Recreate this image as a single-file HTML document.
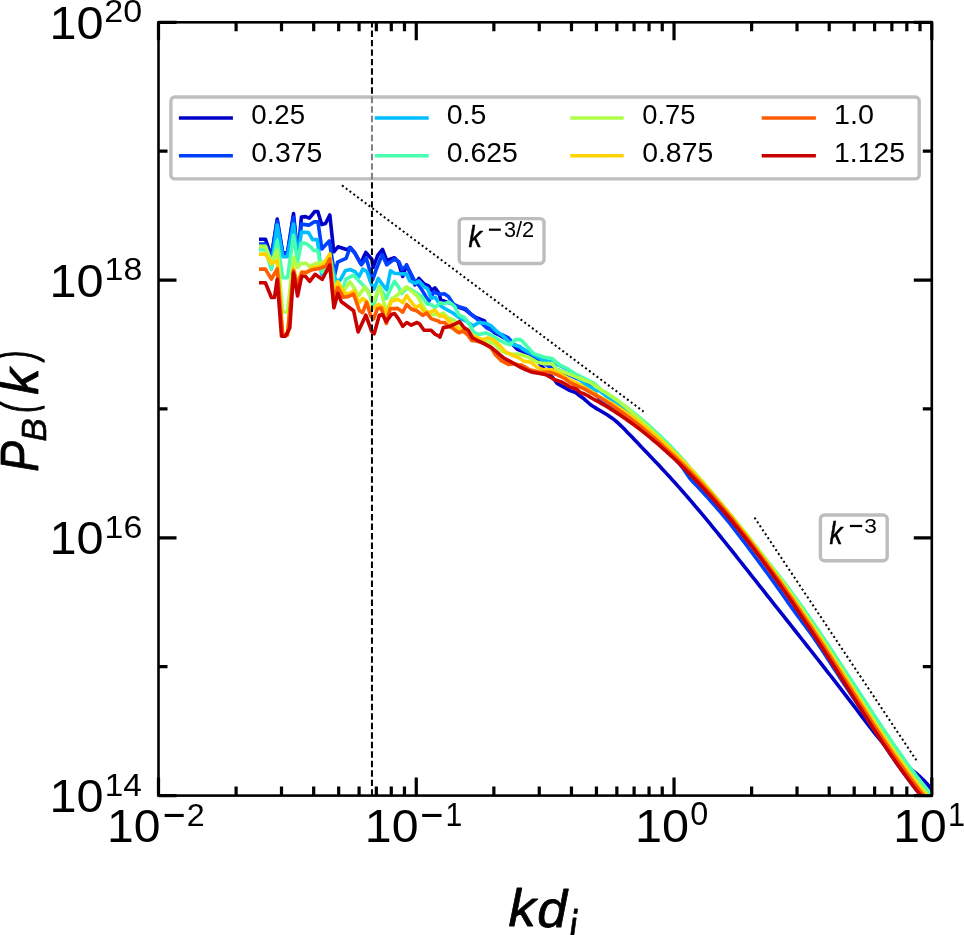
<!DOCTYPE html>
<html><head><meta charset="utf-8"><title>P_B(k) spectrum</title>
<style>html,body{margin:0;padding:0;background:#fff;}body{width:964px;height:935px;overflow:hidden;font-family:"Liberation Sans", sans-serif;}text{font-family:"Liberation Sans", sans-serif;font-kerning:none;}</style>
</head><body>
<div style="will-change:transform;width:964px;height:935px">
<svg width="964" height="935" viewBox="0 0 964 935" style="display:block">
<rect width="964" height="935" fill="#fff"/>
<path d="M158.50,795.6v-18M158.50,22.3v18M236.10,795.6v-9M236.10,22.3v9M281.49,795.6v-9M281.49,22.3v9M313.69,795.6v-9M313.69,22.3v9M338.67,795.6v-9M338.67,22.3v9M359.08,795.6v-9M359.08,22.3v9M376.34,795.6v-9M376.34,22.3v9M391.29,795.6v-9M391.29,22.3v9M404.47,795.6v-9M404.47,22.3v9M416.27,795.6v-18M416.27,22.3v18M493.86,795.6v-9M493.86,22.3v9M539.25,795.6v-9M539.25,22.3v9M571.46,795.6v-9M571.46,22.3v9M596.44,795.6v-9M596.44,22.3v9M616.85,795.6v-9M616.85,22.3v9M634.10,795.6v-9M634.10,22.3v9M649.05,795.6v-9M649.05,22.3v9M662.24,795.6v-9M662.24,22.3v9M674.03,795.6v-18M674.03,22.3v18M751.63,795.6v-9M751.63,22.3v9M797.02,795.6v-9M797.02,22.3v9M829.22,795.6v-9M829.22,22.3v9M854.20,795.6v-9M854.20,22.3v9M874.61,795.6v-9M874.61,22.3v9M891.87,795.6v-9M891.87,22.3v9M906.82,795.6v-9M906.82,22.3v9M920.01,795.6v-9M920.01,22.3v9M931.80,795.6v-18M931.80,22.3v18M158.5,795.60h18M931.8,795.60h-18M158.5,666.72h9M931.8,666.72h-9M158.5,537.83h18M931.8,537.83h-18M158.5,408.95h9M931.8,408.95h-9M158.5,280.07h18M931.8,280.07h-18M158.5,151.18h9M931.8,151.18h-9M158.5,22.30h18M931.8,22.30h-18" stroke="#000" stroke-width="3.2" fill="none"/>
<defs><clipPath id="ax"><rect x="159.8" y="23.6" width="770.6999999999999" height="770.7"/></clipPath></defs>
<g clip-path="url(#ax)" fill="none" stroke-width="3.6" stroke-linejoin="round" stroke-linecap="butt">
<path d="M259.0,239.2 L265.4,239.2 L271.4,256.7 L277.2,219.0 L282.7,252.8 L287.5,252.8 L293.5,213.5 L297.8,257.0 L301.4,217.1 L305.5,216.6 L309.4,218.2 L314.8,211.5 L317.8,211.5 L321.7,224.6 L325.5,223.5 L329.8,215.0 L333.8,251.8 L338.0,246.8 L347.4,249.8 L350.0,247.3 L354.3,252.0 L360.7,263.5 L365.8,252.4 L371.8,259.3 L373.2,267.5 L377.7,255.3 L382.5,249.5 L386.7,260.4 L394.4,257.8 L398.2,261.7 L402.7,276.5 L406.6,264.9 L411.1,275.2 L414.9,284.8 L418.9,278.4 L424.0,283.8 L428.5,285.9 L431.7,290.4 L434.9,287.8 L438.8,293.0 L440.7,299.4 L444.3,301.1 L450.0,303.0 L456.8,306.5 L465.3,309.5 L471.3,314.5 L475.9,317.4 L484.5,320.8 L487.9,326.8 L494.7,332.8 L500.0,335.5 L508.7,340.5 L517.0,349.0 L527.3,353.6 L537.3,361.1 L544.8,369.8 L553.5,378.5 L557.2,383.5 L570.0,390.6 L575.1,392.2 L580.0,396.1 L584.3,399.1 L588.6,403.0 L590.0,404.3 L592.5,406.0 L595.0,407.6 L597.5,409.1 L600.0,410.5 L602.5,412.0 L605.0,413.5 L607.5,415.0 L610.0,416.7 L612.5,418.4 L615.0,420.4 L617.5,422.5 L620.0,424.9 L622.5,427.3 L625.0,429.8 L627.5,432.4 L630.0,435.0 L632.5,437.6 L635.0,440.2 L637.5,442.8 L640.0,445.4 L642.5,448.1 L645.0,450.7 L647.5,453.3 L650.0,455.9 L652.5,458.6 L655.0,461.2 L657.5,463.8 L660.0,466.5 L662.5,469.2 L665.0,471.9 L667.5,474.6 L670.0,477.3 L672.5,480.1 L675.0,482.8 L677.5,485.6 L680.0,488.4 L682.5,491.3 L685.0,494.1 L687.5,497.0 L690.0,499.9 L692.5,502.8 L695.0,505.8 L697.5,508.7 L700.0,511.7 L702.5,514.7 L705.0,517.7 L707.5,520.7 L710.0,523.7 L712.5,526.8 L715.0,529.8 L717.5,532.9 L720.0,536.0 L722.5,539.1 L725.0,542.2 L727.5,545.3 L730.0,548.4 L732.5,551.5 L735.0,554.7 L737.5,557.8 L740.0,561.0 L742.5,564.1 L745.0,567.3 L747.5,570.4 L750.0,573.6 L752.5,576.8 L755.0,579.9 L757.5,583.1 L760.0,586.3 L762.5,589.4 L765.0,592.6 L767.5,595.8 L770.0,598.9 L772.5,602.1 L775.0,605.3 L777.5,608.4 L780.0,611.6 L782.5,614.7 L785.0,617.9 L787.5,621.0 L790.0,624.2 L792.5,627.4 L795.0,630.5 L797.5,633.7 L800.0,636.8 L802.5,640.0 L805.0,643.1 L807.5,646.3 L810.0,649.5 L812.5,652.6 L815.0,655.8 L817.5,659.0 L820.0,662.2 L822.5,665.4 L825.0,668.6 L827.5,671.8 L830.0,675.0 L832.5,678.2 L835.0,681.4 L837.5,684.6 L840.0,687.8 L842.5,691.1 L845.0,694.3 L847.5,697.6 L850.0,700.9 L852.5,704.2 L855.0,707.4 L857.5,710.8 L860.0,714.1 L862.5,717.4 L865.0,720.7 L867.5,723.9 L870.0,727.2 L872.5,730.4 L875.0,733.5 L877.5,736.6 L880.0,739.6 L882.5,742.6 L885.0,745.5 L887.5,748.2 L890.0,750.9 L892.5,753.5 L895.0,755.9 L897.5,758.2 L900.0,760.4 L902.5,762.5 L905.0,764.5 L907.5,766.5 L910.0,768.4 L912.5,770.4 L915.0,772.4 L917.5,774.5 L920.0,776.7 L922.5,779.1 L925.0,781.6 L927.5,784.3 L930.0,787.3 L932.5,790.5 L935.0,794.0 L937.5,797.9 L940.0,802.0" stroke="#0000c8"/>
<path d="M259.0,244.0 L265.4,244.0 L271.4,256.5 L277.2,221.0 L282.7,253.3 L287.5,253.3 L293.5,217.3 L297.8,256.0 L301.4,224.1 L308.9,225.1 L314.3,221.9 L318.0,221.9 L321.8,249.0 L329.3,240.9 L334.7,274.9 L337.6,262.2 L346.1,258.4 L350.0,247.7 L355.1,253.7 L361.5,264.8 L366.2,258.0 L370.9,274.2 L372.6,280.0 L375.8,270.7 L382.2,254.6 L386.7,264.9 L394.4,259.1 L398.9,261.7 L402.1,269.4 L406.6,265.5 L411.7,275.2 L414.9,281.6 L419.4,286.1 L423.9,293.1 L428.6,301.7 L433.7,292.2 L440.0,294.3 L444.3,293.8 L448.6,296.8 L453.7,304.5 L458.8,306.7 L465.7,308.8 L470.8,314.0 L475.9,318.2 L481.1,322.5 L486.2,327.6 L491.3,330.2 L498.2,333.6 L503.3,335.3 L508.4,337.9 L513.6,343.9 L520.0,348.2 L524.9,351.1 L533.6,357.3 L548.5,366.1 L563.0,372.0 L577.1,378.5 L589.6,384.7 L600.0,400.1 L602.5,401.6 L605.0,403.0 L607.5,404.6 L610.0,406.1 L612.5,407.7 L615.0,409.3 L617.5,410.9 L620.0,412.6 L622.5,414.3 L625.0,416.1 L627.5,417.9 L630.0,419.7 L632.5,421.5 L635.0,423.4 L637.5,425.3 L640.0,427.3 L642.5,429.3 L645.0,431.3 L647.5,433.3 L650.0,435.4 L652.5,437.5 L655.0,439.7 L657.5,441.9 L660.0,444.1 L662.5,446.4 L665.0,448.7 L667.5,451.1 L670.0,453.5 L672.5,456.1 L675.0,458.7 L677.5,461.5 L680.0,464.3 L682.5,467.6 L685.0,471.3 L687.5,475.0 L690.0,478.5 L692.5,481.4 L695.0,484.0 L697.5,486.6 L700.0,489.3 L702.5,491.9 L705.0,494.7 L707.5,497.4 L710.0,500.2 L712.5,503.0 L715.0,505.8 L717.5,508.7 L720.0,511.6 L722.5,514.6 L725.0,517.6 L727.5,520.6 L730.0,523.7 L732.5,526.9 L735.0,530.1 L737.5,533.3 L740.0,536.6 L742.5,539.9 L745.0,543.2 L747.5,546.5 L750.0,549.9 L752.5,553.2 L755.0,556.6 L757.5,560.0 L760.0,563.3 L762.5,566.7 L765.0,570.1 L767.5,573.5 L770.0,576.9 L772.5,580.4 L775.0,583.9 L777.5,587.4 L780.0,590.9 L782.5,594.5 L785.0,598.0 L787.5,601.6 L790.0,605.3 L792.5,608.8 L795.0,612.3 L797.5,615.7 L800.0,619.0 L802.5,622.4 L805.0,625.7 L807.5,629.1 L810.0,632.5 L812.5,636.0 L815.0,639.6 L817.5,643.3 L820.0,647.0 L822.5,650.8 L825.0,654.6 L827.5,658.5 L830.0,662.3 L832.5,666.2 L835.0,670.0 L837.5,673.9 L840.0,677.7 L842.5,681.6 L845.0,685.3 L847.5,689.1 L850.0,692.8 L852.5,696.6 L855.0,700.3 L857.5,704.1 L860.0,708.0 L862.5,711.9 L865.0,715.8 L867.5,719.7 L870.0,723.6 L872.5,727.4 L875.0,731.2 L877.5,735.1 L880.0,738.8 L882.5,742.6 L885.0,746.3 L887.5,750.0 L890.0,753.7 L892.5,757.3 L895.0,760.9 L897.5,764.5 L900.0,768.0 L902.5,771.5 L905.0,774.9 L907.5,778.3 L910.0,781.6 L912.5,784.9 L915.0,788.1 L917.5,791.3 L920.0,794.4 L922.5,797.5 L925.0,800.5 L927.5,803.4 L930.0,806.3 L932.5,809.1 L935.0,811.8 L937.5,814.5 L940.0,817.0" stroke="#0040ff"/>
<path d="M259.0,246.5 L265.4,246.5 L271.4,267.4 L277.2,225.0 L282.7,256.7 L287.5,256.7 L293.5,224.0 L297.8,258.0 L301.4,232.1 L308.5,232.6 L312.6,239.6 L317.3,239.6 L321.6,274.3 L326.0,263.0 L329.8,256.0 L335.7,280.7 L340.2,280.1 L345.3,270.8 L350.0,269.5 L355.1,271.7 L359.0,276.8 L362.8,269.1 L367.1,271.7 L370.1,281.0 L373.9,289.3 L378.3,278.4 L382.2,284.2 L386.7,289.9 L390.5,270.7 L394.4,273.2 L402.1,273.9 L406.6,273.9 L409.8,280.9 L414.9,283.5 L418.8,280.9 L423.9,286.7 L427.7,288.8 L431.1,298.2 L435.4,297.4 L440.0,305.4 L446.8,309.7 L453.0,313.0 L459.7,318.2 L466.0,321.0 L473.4,325.9 L478.5,322.5 L486.2,323.4 L491.3,325.9 L496.5,331.1 L503.3,336.2 L508.4,341.3 L513.6,344.7 L520.0,346.5 L522.4,348.6 L532.0,354.0 L542.3,359.8 L552.2,362.3 L561.0,366.1 L570.0,371.0 L579.6,379.5 L586.0,385.1 L595.7,390.3 L600.0,391.1 L602.5,393.1 L605.0,395.1 L607.5,397.1 L610.0,398.9 L612.5,400.6 L615.0,402.3 L617.5,404.0 L620.0,405.7 L622.5,407.5 L625.0,409.2 L627.5,411.0 L630.0,412.8 L632.5,414.7 L635.0,416.6 L637.5,418.5 L640.0,420.4 L642.5,422.4 L645.0,424.5 L647.5,426.5 L650.0,428.6 L652.5,430.7 L655.0,432.8 L657.5,435.0 L660.0,437.2 L662.5,439.5 L665.0,441.7 L667.5,444.1 L670.0,446.5 L672.5,449.0 L675.0,451.5 L677.5,454.2 L680.0,457.0 L682.5,459.7 L685.0,462.6 L687.5,465.4 L690.0,468.3 L692.5,471.2 L695.0,474.1 L697.5,476.9 L700.0,479.8 L702.5,482.6 L705.0,485.4 L707.5,488.3 L710.0,491.2 L712.5,494.1 L715.0,497.0 L717.5,500.0 L720.0,503.0 L722.5,506.0 L725.0,509.0 L727.5,512.0 L730.0,515.0 L732.5,518.0 L735.0,521.1 L737.5,524.2 L740.0,527.3 L742.5,530.4 L745.0,533.5 L747.5,536.7 L750.0,539.9 L752.5,543.1 L755.0,546.3 L757.5,549.6 L760.0,552.8 L762.5,556.1 L765.0,559.3 L767.5,562.5 L770.0,565.6 L772.5,568.7 L775.0,571.9 L777.5,575.0 L780.0,578.2 L782.5,581.4 L785.0,584.6 L787.5,587.9 L790.0,591.3 L792.5,594.7 L795.0,598.1 L797.5,601.5 L800.0,605.0 L802.5,608.5 L805.0,612.1 L807.5,615.6 L810.0,619.2 L812.5,622.8 L815.0,626.5 L817.5,630.1 L820.0,633.8 L822.5,637.5 L825.0,641.2 L827.5,645.0 L830.0,648.8 L832.5,652.6 L835.0,656.4 L837.5,660.2 L840.0,664.0 L842.5,667.9 L845.0,671.7 L847.5,675.5 L850.0,679.3 L852.5,683.1 L855.0,686.9 L857.5,690.6 L860.0,694.4 L862.5,698.2 L865.0,702.0 L867.5,705.8 L870.0,709.7 L872.5,713.6 L875.0,717.4 L877.5,721.3 L880.0,725.1 L882.5,728.9 L885.0,732.6 L887.5,736.3 L890.0,740.0 L892.5,743.7 L895.0,747.3 L897.5,750.9 L900.0,754.5 L902.5,758.0 L905.0,761.5 L907.5,765.0 L910.0,768.4 L912.5,771.8 L915.0,775.1 L917.5,778.4 L920.0,781.7 L922.5,784.9 L925.0,788.2 L927.5,791.4 L930.0,794.6 L932.5,797.7 L935.0,800.8 L937.5,803.8 L940.0,806.7" stroke="#00bfff"/>
<path d="M259.0,249.8 L265.4,249.8 L271.4,269.6 L277.2,240.7 L282.7,277.6 L287.5,277.6 L293.5,235.3 L297.6,262.0 L301.4,242.8 L306.3,243.6 L310.6,247.0 L313.9,250.5 L317.7,250.5 L322.2,272.4 L329.8,258.0 L334.5,285.0 L340.0,292.0 L343.0,290.7 L345.6,279.4 L353.7,275.2 L360.1,282.1 L364.4,286.4 L368.4,291.4 L373.5,306.2 L379.3,286.3 L386.3,298.5 L390.0,289.8 L394.5,281.4 L398.3,286.6 L401.6,293.6 L407.2,288.0 L411.7,290.0 L417.0,293.6 L422.1,296.8 L427.2,303.9 L431.1,304.5 L434.9,307.7 L440.0,302.8 L445.1,303.7 L449.0,302.0 L454.5,306.3 L458.8,314.8 L464.0,317.4 L468.2,322.5 L474.2,332.8 L479.3,334.5 L486.2,332.8 L491.3,335.3 L498.2,339.6 L505.0,343.0 L510.1,344.7 L515.3,339.6 L520.0,339.6 L522.4,341.2 L533.6,353.6 L544.8,357.3 L552.2,358.6 L559.7,364.8 L567.2,368.5 L574.7,373.5 L584.6,378.5 L594.6,383.5 L600.0,389.1 L602.5,390.7 L605.0,392.2 L607.5,393.8 L610.0,395.5 L612.5,397.1 L615.0,398.8 L617.5,400.6 L620.0,402.4 L622.5,404.2 L625.0,406.1 L627.5,407.9 L630.0,409.9 L632.5,411.8 L635.0,413.8 L637.5,415.9 L640.0,417.9 L642.5,420.1 L645.0,422.2 L647.5,424.4 L650.0,426.6 L652.5,428.9 L655.0,431.2 L657.5,433.5 L660.0,435.9 L662.5,438.3 L665.0,440.7 L667.5,443.2 L670.0,445.8 L672.5,448.4 L675.0,451.1 L677.5,453.8 L680.0,456.5 L682.5,459.3 L685.0,462.2 L687.5,465.0 L690.0,467.9 L692.5,470.7 L695.0,473.6 L697.5,476.4 L700.0,479.3 L702.5,482.1 L705.0,484.9 L707.5,487.8 L710.0,490.7 L712.5,493.6 L715.0,496.5 L717.5,499.5 L720.0,502.5 L722.5,505.5 L725.0,508.5 L727.5,511.5 L730.0,514.5 L732.5,517.5 L735.0,520.6 L737.5,523.6 L740.0,526.7 L742.5,529.8 L745.0,532.9 L747.5,536.0 L750.0,539.1 L752.5,542.3 L755.0,545.4 L757.5,548.6 L760.0,551.8 L762.5,555.0 L765.0,558.2 L767.5,561.4 L770.0,564.5 L772.5,567.6 L775.0,570.8 L777.5,573.9 L780.0,577.1 L782.5,580.3 L785.0,583.6 L787.5,586.9 L790.0,590.3 L792.5,593.7 L795.0,597.1 L797.5,600.5 L800.0,604.0 L802.5,607.5 L805.0,611.1 L807.5,614.6 L810.0,618.2 L812.5,621.8 L815.0,625.5 L817.5,629.1 L820.0,632.8 L822.5,636.5 L825.0,640.2 L827.5,644.0 L830.0,647.8 L832.5,651.6 L835.0,655.4 L837.5,659.2 L840.0,663.0 L842.5,666.9 L845.0,670.7 L847.5,674.5 L850.0,678.3 L852.5,682.1 L855.0,685.9 L857.5,689.6 L860.0,693.4 L862.5,697.2 L865.0,701.0 L867.5,704.8 L870.0,708.7 L872.5,712.6 L875.0,716.4 L877.5,720.3 L880.0,724.1 L882.5,727.9 L885.0,731.6 L887.5,735.3 L890.0,739.0 L892.5,742.7 L895.0,746.3 L897.5,749.9 L900.0,753.5 L902.5,757.0 L905.0,760.5 L907.5,764.0 L910.0,767.4 L912.5,770.8 L915.0,774.1 L917.5,777.4 L920.0,780.7 L922.5,783.9 L925.0,787.2 L927.5,790.4 L930.0,793.6 L932.5,796.7 L935.0,799.8 L937.5,802.8 L940.0,805.7" stroke="#48ffaf"/>
<path d="M259.0,246.4 L265.4,246.4 L271.4,262.0 L277.2,250.3 L282.7,312.0 L287.5,312.0 L293.5,257.3 L297.4,267.4 L301.6,263.4 L306.3,263.3 L309.7,266.7 L314.9,263.7 L319.0,262.7 L325.1,261.6 L329.8,254.5 L333.5,292.0 L343.3,291.4 L350.0,282.0 L352.3,285.0 L358.7,295.9 L364.5,286.9 L373.5,301.0 L379.9,286.9 L386.3,312.0 L391.5,299.1 L395.1,296.8 L406.7,286.6 L411.2,291.0 L417.0,295.5 L420.8,302.0 L425.9,310.9 L433.6,314.8 L440.0,314.8 L443.4,313.1 L448.6,318.2 L453.7,319.9 L459.0,324.0 L466.0,330.0 L474.2,336.2 L481.1,341.3 L487.0,341.5 L494.7,343.9 L499.9,349.9 L506.7,353.3 L513.6,354.2 L520.0,354.2 L528.6,357.3 L537.3,362.3 L543.5,363.6 L552.2,363.6 L557.2,369.8 L564.7,372.3 L577.1,377.3 L589.6,382.2 L600.0,389.1 L602.5,390.6 L605.0,392.1 L607.5,393.7 L610.0,395.3 L612.5,397.0 L615.0,398.7 L617.5,400.5 L620.0,402.4 L622.5,404.4 L625.0,406.4 L627.5,408.5 L630.0,410.6 L632.5,412.8 L635.0,415.0 L637.5,417.2 L640.0,419.4 L642.5,421.7 L645.0,424.0 L647.5,426.3 L650.0,428.6 L652.5,431.0 L655.0,433.4 L657.5,435.8 L660.0,438.2 L662.5,440.6 L665.0,443.0 L667.5,445.5 L670.0,447.9 L672.5,450.3 L675.0,452.8 L677.5,455.2 L680.0,457.7 L682.5,460.3 L685.0,462.8 L687.5,465.4 L690.0,468.0 L692.5,470.6 L695.0,473.3 L697.5,476.0 L700.0,478.8 L702.5,481.5 L705.0,484.4 L707.5,487.2 L710.0,490.1 L712.5,493.0 L715.0,496.0 L717.5,498.9 L720.0,501.9 L722.5,504.9 L725.0,507.9 L727.5,511.0 L730.0,514.0 L732.5,517.0 L735.0,520.1 L737.5,523.2 L740.0,526.3 L742.5,529.4 L745.0,532.5 L747.5,535.7 L750.0,538.9 L752.5,542.1 L755.0,545.3 L757.5,548.5 L760.0,551.8 L762.5,555.1 L765.0,558.4 L767.5,561.7 L770.0,565.0 L772.5,568.3 L775.0,571.7 L777.5,575.0 L780.0,578.4 L782.5,581.8 L785.0,585.3 L787.5,588.7 L790.0,592.3 L792.5,595.8 L795.0,599.4 L797.5,603.0 L800.0,606.6 L802.5,610.2 L805.0,613.9 L807.5,617.5 L810.0,621.3 L812.5,625.0 L815.0,628.7 L817.5,632.5 L820.0,636.3 L822.5,640.1 L825.0,643.9 L827.5,647.8 L830.0,651.7 L832.5,655.5 L835.0,659.4 L837.5,663.3 L840.0,667.2 L842.5,671.1 L845.0,675.0 L847.5,679.0 L850.0,682.9 L852.5,686.8 L855.0,690.7 L857.5,694.7 L860.0,698.6 L862.5,702.5 L865.0,706.4 L867.5,710.3 L870.0,714.2 L872.5,718.1 L875.0,721.9 L877.5,725.8 L880.0,729.6 L882.5,733.4 L885.0,737.1 L887.5,740.8 L890.0,744.5 L892.5,748.2 L895.0,751.8 L897.5,755.4 L900.0,758.9 L902.5,762.4 L905.0,765.8 L907.5,769.3 L910.0,772.7 L912.5,776.0 L915.0,779.3 L917.5,782.6 L920.0,785.8 L922.5,788.9 L925.0,792.0 L927.5,795.1 L930.0,798.0 L932.5,801.0 L935.0,803.8 L937.5,806.6 L940.0,809.3" stroke="#afff48"/>
<path d="M259.0,254.1 L265.4,254.1 L271.4,263.7 L277.2,260.5 L282.7,334.0 L287.5,334.0 L293.5,268.0 L297.4,283.0 L301.4,272.0 L306.3,272.8 L312.6,267.2 L319.6,266.6 L325.1,262.4 L329.8,253.8 L333.5,295.0 L337.9,281.6 L344.6,293.3 L349.8,293.3 L354.3,290.8 L358.7,303.0 L362.6,298.5 L367.1,301.7 L370.9,310.7 L374.2,307.5 L378.6,304.3 L383.8,308.1 L386.3,314.0 L391.5,301.0 L398.3,299.4 L402.8,302.6 L406.7,295.5 L411.2,302.0 L415.7,307.7 L419.5,305.2 L424.0,311.6 L429.8,312.2 L434.9,310.3 L438.8,314.8 L440.0,316.5 L443.4,315.7 L448.6,320.8 L455.4,325.9 L460.0,329.5 L465.7,332.8 L474.0,336.5 L482.8,339.6 L487.9,337.9 L493.0,339.6 L499.9,345.6 L505.0,351.6 L511.9,355.0 L520.0,358.4 L523.6,361.1 L531.1,362.3 L537.3,367.3 L543.5,369.8 L552.2,369.8 L559.7,373.5 L569.7,379.8 L579.6,384.5 L589.6,390.5 L595.7,394.0 L600.0,397.1 L602.5,398.4 L605.0,399.6 L607.5,400.9 L610.0,402.3 L612.5,403.8 L615.0,405.3 L617.5,406.9 L620.0,408.6 L622.5,410.3 L625.0,412.0 L627.5,413.7 L630.0,415.5 L632.5,417.3 L635.0,419.2 L637.5,421.0 L640.0,422.9 L642.5,424.9 L645.0,426.9 L647.5,428.9 L650.0,430.9 L652.5,433.0 L655.0,435.1 L657.5,437.2 L660.0,439.4 L662.5,441.6 L665.0,443.8 L667.5,446.1 L670.0,448.4 L672.5,450.8 L675.0,453.2 L677.5,455.7 L680.0,458.2 L682.5,460.8 L685.0,463.4 L687.5,466.1 L690.0,468.8 L692.5,471.5 L695.0,474.2 L697.5,477.0 L700.0,479.8 L702.5,482.5 L705.0,485.4 L707.5,488.2 L710.0,491.1 L712.5,494.0 L715.0,497.0 L717.5,500.0 L720.0,502.9 L722.5,505.9 L725.0,508.9 L727.5,512.0 L730.0,515.0 L732.5,518.0 L735.0,521.1 L737.5,524.2 L740.0,527.3 L742.5,530.5 L745.0,533.7 L747.5,536.9 L750.0,540.1 L752.5,543.4 L755.0,546.7 L757.5,550.0 L760.0,553.3 L762.5,556.7 L765.0,560.0 L767.5,563.4 L770.0,566.7 L772.5,570.1 L775.0,573.5 L777.5,576.9 L780.0,580.3 L782.5,583.8 L785.0,587.2 L787.5,590.7 L790.0,594.3 L792.5,597.8 L795.0,601.4 L797.5,605.0 L800.0,608.6 L802.5,612.2 L805.0,615.9 L807.5,619.6 L810.0,623.3 L812.5,627.0 L815.0,630.7 L817.5,634.5 L820.0,638.3 L822.5,642.1 L825.0,645.9 L827.5,649.8 L830.0,653.7 L832.5,657.5 L835.0,661.4 L837.5,665.3 L840.0,669.2 L842.5,673.1 L845.0,677.0 L847.5,681.0 L850.0,684.9 L852.5,688.8 L855.0,692.7 L857.5,696.7 L860.0,700.6 L862.5,704.5 L865.0,708.4 L867.5,712.3 L870.0,716.2 L872.5,720.1 L875.0,723.9 L877.5,727.8 L880.0,731.6 L882.5,735.4 L885.0,739.1 L887.5,742.8 L890.0,746.5 L892.5,750.2 L895.0,753.8 L897.5,757.4 L900.0,760.9 L902.5,764.4 L905.0,767.8 L907.5,771.3 L910.0,774.7 L912.5,778.0 L915.0,781.3 L917.5,784.6 L920.0,787.8 L922.5,790.9 L925.0,794.0 L927.5,797.1 L930.0,800.0 L932.5,803.0 L935.0,805.8 L937.5,808.6 L940.0,811.3" stroke="#ffd200"/>
<path d="M259.0,269.1 L265.4,269.1 L271.4,279.2 L277.2,268.8 L282.7,335.0 L287.5,335.0 L293.5,270.5 L297.4,286.0 L302.0,272.4 L306.3,272.4 L311.9,269.8 L319.6,268.5 L326.0,266.0 L329.8,258.9 L333.5,299.0 L337.9,287.5 L343.3,297.2 L347.8,296.6 L353.6,294.0 L359.4,310.7 L362.6,312.6 L366.5,302.3 L370.9,316.4 L373.5,319.0 L377.4,308.7 L381.2,308.1 L386.3,323.5 L390.2,308.7 L397.7,308.4 L402.8,312.2 L406.7,304.5 L411.2,309.0 L417.0,311.0 L422.7,315.4 L426.6,312.9 L431.1,318.6 L438.8,321.2 L440.0,322.5 L444.3,322.5 L448.6,325.9 L453.0,328.5 L458.8,332.8 L463.0,331.0 L467.4,334.5 L471.7,340.5 L477.6,341.3 L484.5,343.5 L491.3,348.2 L495.6,355.0 L501.6,361.0 L508.4,364.4 L514.4,363.6 L520.0,365.3 L521.1,364.8 L529.8,369.8 L539.8,372.3 L549.8,372.3 L557.2,374.8 L564.7,378.5 L570.0,382.6 L576.4,385.5 L580.0,387.1 L584.3,388.9 L588.6,391.4 L592.8,393.6 L597.1,396.1 L600.0,397.6 L602.5,399.2 L605.0,400.8 L607.5,402.5 L610.0,404.1 L612.5,405.8 L615.0,407.5 L617.5,409.2 L620.0,411.0 L622.5,412.8 L625.0,414.5 L627.5,416.4 L630.0,418.2 L632.5,420.1 L635.0,422.0 L637.5,424.0 L640.0,425.9 L642.5,428.0 L645.0,430.0 L647.5,432.2 L650.0,434.3 L652.5,436.5 L655.0,438.7 L657.5,440.9 L660.0,443.2 L662.5,445.4 L665.0,447.7 L667.5,450.0 L670.0,452.3 L672.5,454.6 L675.0,456.9 L677.5,459.3 L680.0,461.7 L682.5,464.1 L685.0,466.6 L687.5,469.0 L690.0,471.6 L692.5,474.1 L695.0,476.7 L697.5,479.3 L700.0,482.0 L702.5,484.7 L705.0,487.4 L707.5,490.2 L710.0,493.0 L712.5,495.8 L715.0,498.7 L717.5,501.6 L720.0,504.5 L722.5,507.5 L725.0,510.5 L727.5,513.5 L730.0,516.5 L732.5,519.5 L735.0,522.6 L737.5,525.7 L740.0,528.8 L742.5,532.0 L745.0,535.2 L747.5,538.4 L750.0,541.6 L752.5,544.9 L755.0,548.2 L757.5,551.5 L760.0,554.8 L762.5,558.2 L765.0,561.5 L767.5,564.9 L770.0,568.3 L772.5,571.7 L775.0,575.2 L777.5,578.6 L780.0,582.1 L782.5,585.6 L785.0,589.1 L787.5,592.7 L790.0,596.3 L792.5,599.9 L795.0,603.5 L797.5,607.1 L800.0,610.8 L802.5,614.5 L805.0,618.2 L807.5,621.9 L810.0,625.6 L812.5,629.4 L815.0,633.2 L817.5,637.0 L820.0,640.8 L822.5,644.6 L825.0,648.5 L827.5,652.4 L830.0,656.3 L832.5,660.2 L835.0,664.1 L837.5,668.0 L840.0,672.0 L842.5,675.9 L845.0,679.9 L847.5,683.8 L850.0,687.8 L852.5,691.7 L855.0,695.7 L857.5,699.6 L860.0,703.6 L862.5,707.5 L865.0,711.4 L867.5,715.3 L870.0,719.2 L872.5,723.1 L875.0,726.9 L877.5,730.8 L880.0,734.6 L882.5,738.4 L885.0,742.1 L887.5,745.8 L890.0,749.5 L892.5,753.2 L895.0,756.8 L897.5,760.4 L900.0,763.9 L902.5,767.4 L905.0,770.8 L907.5,774.3 L910.0,777.7 L912.5,781.0 L915.0,784.3 L917.5,787.6 L920.0,790.8 L922.5,793.9 L925.0,797.0 L927.5,800.1 L930.0,803.0 L932.5,806.0 L935.0,808.8 L937.5,811.6 L940.0,814.3" stroke="#ff5c00"/>
<path d="M259.0,282.7 L265.4,282.7 L271.4,297.5 L274.5,297.5 L277.2,279.2 L281.5,336.1 L285.5,336.1 L289.8,328.0 L293.5,272.8 L297.6,295.9 L301.6,276.3 L305.5,276.3 L309.7,281.4 L315.1,274.3 L322.2,279.4 L329.8,265.0 L333.9,307.8 L337.9,293.3 L341.4,301.7 L353.6,310.7 L358.1,331.9 L365.8,315.2 L371.6,331.2 L374.2,333.8 L379.3,315.2 L382.5,314.5 L386.3,321.6 L391.5,314.5 L394.5,313.5 L398.3,318.6 L402.8,326.3 L406.7,322.5 L411.2,325.1 L417.0,322.5 L419.5,323.8 L424.0,330.2 L431.1,330.2 L434.9,334.1 L438.8,336.0 L440.0,337.0 L443.4,327.6 L448.6,326.8 L454.0,324.5 L459.7,321.7 L464.0,327.6 L468.2,330.2 L472.5,337.9 L477.6,340.5 L484.5,343.9 L491.3,347.3 L498.2,353.3 L504.2,358.4 L511.0,361.9 L520.0,367.0 L526.1,369.8 L532.3,372.3 L539.8,373.5 L546.0,374.8 L554.7,379.8 L562.2,382.2 L570.0,387.1 L576.4,389.0 L580.0,392.3 L584.3,394.0 L588.6,396.1 L590.0,397.2 L592.5,398.5 L595.0,399.9 L597.5,401.2 L600.0,402.6 L602.5,404.1 L605.0,405.5 L607.5,407.0 L610.0,408.6 L612.5,410.1 L615.0,411.7 L617.5,413.4 L620.0,415.0 L622.5,416.7 L625.0,418.4 L627.5,420.2 L630.0,422.0 L632.5,423.8 L635.0,425.6 L637.5,427.5 L640.0,429.4 L642.5,431.4 L645.0,433.4 L647.5,435.4 L650.0,437.4 L652.5,439.5 L655.0,441.6 L657.5,443.7 L660.0,445.9 L662.5,448.1 L665.0,450.3 L667.5,452.6 L670.0,454.9 L672.5,457.2 L675.0,459.5 L677.5,461.9 L680.0,464.3 L682.5,466.8 L685.0,469.3 L687.5,471.8 L690.0,474.3 L692.5,476.9 L695.0,479.5 L697.5,482.1 L700.0,484.8 L702.5,487.4 L705.0,490.2 L707.5,492.9 L710.0,495.7 L712.5,498.5 L715.0,501.3 L717.5,504.2 L720.0,507.1 L722.5,510.0 L725.0,513.0 L727.5,516.0 L730.0,519.0 L732.5,522.0 L735.0,525.1 L737.5,528.2 L740.0,531.3 L742.5,534.5 L745.0,537.7 L747.5,540.9 L750.0,544.1 L752.5,547.4 L755.0,550.7 L757.5,554.0 L760.0,557.3 L762.5,560.7 L765.0,564.1 L767.5,567.5 L770.0,570.9 L772.5,574.4 L775.0,577.9 L777.5,581.4 L780.0,584.9 L782.5,588.5 L785.0,592.0 L787.5,595.6 L790.0,599.3 L792.5,602.9 L795.0,606.6 L797.5,610.2 L800.0,613.9 L802.5,617.7 L805.0,621.4 L807.5,625.2 L810.0,629.0 L812.5,632.8 L815.0,636.6 L817.5,640.4 L820.0,644.3 L822.5,648.2 L825.0,652.1 L827.5,656.0 L830.0,659.9 L832.5,663.9 L835.0,667.8 L837.5,671.8 L840.0,675.7 L842.5,679.7 L845.0,683.7 L847.5,687.7 L850.0,691.7 L852.5,695.6 L855.0,699.6 L857.5,703.6 L860.0,707.5 L862.5,711.5 L865.0,715.4 L867.5,719.3 L870.0,723.2 L872.5,727.1 L875.0,730.9 L877.5,734.8 L880.0,738.6 L882.5,742.4 L885.0,746.1 L887.5,749.8 L890.0,753.5 L892.5,757.2 L895.0,760.8 L897.5,764.4 L900.0,767.9 L902.5,771.4 L905.0,774.8 L907.5,778.2 L910.0,781.5 L912.5,784.8 L915.0,788.1 L917.5,791.3 L920.0,794.4 L922.5,797.4 L925.0,800.4 L927.5,803.4 L930.0,806.3 L932.5,809.1 L935.0,811.8 L937.5,814.5 L940.0,817.0" stroke="#c80000"/>
</g>
<line x1="371.95" y1="795.6" x2="371.95" y2="22.3" stroke="#000" stroke-width="2" stroke-dasharray="6.45 3.034"/>
<line x1="342" y1="185.4" x2="643.6" y2="411.6" stroke="#000" stroke-width="2" stroke-dasharray="2 2.75"/>
<line x1="754.5" y1="517.6" x2="916.9" y2="761.1" stroke="#000" stroke-width="2" stroke-dasharray="2 2.75"/>
<rect x="158.5" y="22.3" width="773.3" height="773.3000000000001" fill="none" stroke="#000" stroke-width="2.6"/>
<text transform="translate(49.39,38.95) scale(1.0597,1)" font-size="45.90" fill="#000">10</text>
<text transform="translate(104.29,22.10) scale(1.0899,1)" font-size="31.21" fill="#000">20</text>
<text transform="translate(49.39,296.72) scale(1.0597,1)" font-size="45.90" fill="#000">10</text>
<text transform="translate(104.62,279.86) scale(1.0844,1)" font-size="31.21" fill="#000">18</text>
<text transform="translate(49.39,554.49) scale(1.0597,1)" font-size="45.90" fill="#000">10</text>
<text transform="translate(104.62,537.63) scale(1.0849,1)" font-size="31.21" fill="#000">16</text>
<text transform="translate(49.39,812.25) scale(1.0597,1)" font-size="45.90" fill="#000">10</text>
<text transform="translate(104.66,795.70) scale(1.0389,1)" font-size="32.12" fill="#000">14</text>
<text transform="translate(106.94,841.75) scale(1.0338,1)" font-size="46.47" fill="#000">10</text>
<rect x="164.7" y="813.9" width="19.0" height="3.1" fill="#000"/>
<text transform="translate(186.78,825.50) scale(1.0058,1)" font-size="32.08" fill="#000">2</text>
<text transform="translate(364.83,841.75) scale(1.0382,1)" font-size="46.47" fill="#000">10</text>
<rect x="422.2" y="813.9" width="19.3" height="3.1" fill="#000"/>
<text transform="translate(445.50,825.50) scale(0.9261,1)" font-size="32.56" fill="#000">1</text>
<text transform="translate(634.99,841.75) scale(1.0468,1)" font-size="46.47" fill="#000">10</text>
<text transform="translate(690.33,825.48) scale(0.9981,1)" font-size="32.49" fill="#000">0</text>
<text transform="translate(893.24,841.75) scale(1.0338,1)" font-size="46.47" fill="#000">10</text>
<text transform="translate(948.07,825.50) scale(0.9403,1)" font-size="32.56" fill="#000">1</text>
<text transform="translate(508.40,926.30) scale(1.0463,1)" font-size="52.03" font-style="italic" fill="#000" stroke="#000" stroke-width="0.76" stroke-linejoin="round">k</text>
<text transform="translate(537.30,926.56) scale(1.0225,1)" font-size="52.39" font-style="italic" fill="#000" stroke="#000" stroke-width="0.78" stroke-linejoin="round">d</text>
<text transform="translate(568.81,944.70) scale(0.7230,1)" font-size="50.23" font-style="italic" fill="#000" stroke="#000" stroke-width="0.83" stroke-linejoin="round">i</text>
<text transform="translate(37.80,471.72) rotate(-90) scale(0.8756,1)" font-size="52.76" font-style="italic" fill="#000" stroke="#000" stroke-width="0.80" stroke-linejoin="round">P</text>
<text transform="translate(45.50,441.57) rotate(-90) scale(0.9709,1)" font-size="35.76" font-style="italic" fill="#000" stroke="#000" stroke-width="0.60" stroke-linejoin="round">B</text>
<text transform="translate(34.17,412.23) rotate(-90) scale(0.5347,1)" font-size="48.95" font-style="italic" fill="#000" stroke="#000" stroke-width="1.40" stroke-linejoin="round">(</text>
<text transform="translate(37.80,394.78) rotate(-90) scale(0.9696,1)" font-size="54.37" font-style="italic" fill="#000" stroke="#000" stroke-width="0.80" stroke-linejoin="round">k</text>
<text transform="translate(34.17,359.78) rotate(-90) scale(0.5292,1)" font-size="48.95" font-style="italic" fill="#000" stroke="#000" stroke-width="1.40" stroke-linejoin="round">)</text>
<rect x="170.9" y="97.0" width="748.3" height="81.9" rx="4" ry="4" fill="#fff" fill-opacity="0.5" stroke="#808080" stroke-opacity="0.5" stroke-width="3.4"/>
<line x1="178.9" y1="118.0" x2="232.9" y2="118.0" stroke="#0000c8" stroke-width="3.5"/>
<text transform="translate(251.22,124.43) scale(0.9942,1)" font-size="27.82" fill="#000">0.25</text>
<line x1="178.9" y1="155.8" x2="232.9" y2="155.8" stroke="#0040ff" stroke-width="3.5"/>
<text transform="translate(251.19,161.94) scale(1.0493,1)" font-size="27.12" fill="#000">0.375</text>
<line x1="374.8" y1="118.0" x2="428.7" y2="118.0" stroke="#00bfff" stroke-width="3.5"/>
<text transform="translate(446.69,124.43) scale(1.0240,1)" font-size="27.82" fill="#000">0.5</text>
<line x1="374.8" y1="155.8" x2="428.7" y2="155.8" stroke="#48ffaf" stroke-width="3.5"/>
<text transform="translate(446.69,161.94) scale(1.0508,1)" font-size="27.12" fill="#000">0.625</text>
<line x1="570.3" y1="118.0" x2="623.7" y2="118.0" stroke="#afff48" stroke-width="3.5"/>
<text transform="translate(642.23,124.43) scale(0.9827,1)" font-size="27.82" fill="#000">0.75</text>
<line x1="570.3" y1="155.8" x2="623.7" y2="155.8" stroke="#ffd200" stroke-width="3.5"/>
<text transform="translate(642.19,161.94) scale(1.0462,1)" font-size="27.12" fill="#000">0.875</text>
<line x1="761.7" y1="118.0" x2="815.9" y2="118.0" stroke="#ff5c00" stroke-width="3.5"/>
<text transform="translate(834.01,124.43) scale(1.0346,1)" font-size="27.82" fill="#000">1.0</text>
<line x1="761.7" y1="155.8" x2="815.9" y2="155.8" stroke="#c80000" stroke-width="3.5"/>
<text transform="translate(834.03,161.94) scale(1.0486,1)" font-size="27.12" fill="#000">1.125</text>
<rect x="459.2" y="218.6" width="84.8" height="44.9" rx="4" ry="4" fill="#fff" stroke="#bdbdbd" stroke-width="3.4"/>
<text transform="translate(468.38,246.78) scale(0.9119,1)" font-size="29.33" font-style="italic" fill="#000" stroke="#000" stroke-width="0.49" stroke-linejoin="round">k</text>
<rect x="488.9" y="228.6" width="11.9" height="2.2" fill="#000"/>
<text transform="translate(503.97,237.38) scale(0.9855,1)" font-size="22.06" fill="#000">3/2</text>
<rect x="820.4" y="515.0" width="66.8" height="45.7" rx="4" ry="4" fill="#fff" stroke="#bdbdbd" stroke-width="3.4"/>
<text transform="translate(829.59,543.67) scale(0.8499,1)" font-size="30.57" font-style="italic" fill="#000" stroke="#000" stroke-width="0.53" stroke-linejoin="round">k</text>
<rect x="849.9" y="524.9" width="12.3" height="2.2" fill="#000"/>
<text transform="translate(864.33,532.69) scale(1.0824,1)" font-size="21.04" fill="#000">3</text>
</svg>
</div>
</body></html>
